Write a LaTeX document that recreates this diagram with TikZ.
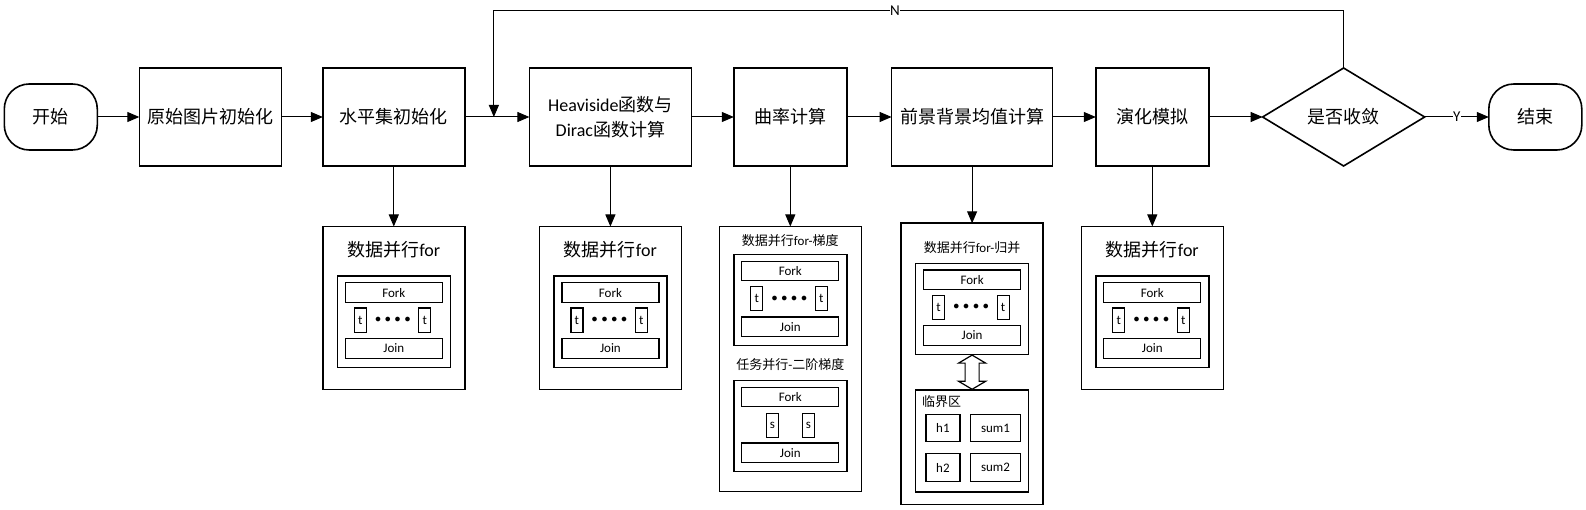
\documentclass[tikz,border=0pt]{standalone}
\usepackage{fontspec}
\setmainfont{Carlito}
\newfontfamily\zh{Noto Sans CJK SC}
\usetikzlibrary{arrows.meta, calc, positioning, shapes.geometric}

\begin{document}
\begin{tikzpicture}[x=1pt, y=-1pt, >={Triangle[length=12pt, width=10pt]},
    box/.style={draw, line width=1.6pt, outer sep=0pt, minimum height=98pt, inner sep=1pt, align=center, font=\fontsize{18}{24.5}\selectfont},
    term/.style={draw, line width=1.6pt, outer sep=0pt, rounded corners=25pt, minimum width=93pt, minimum height=66pt, font=\fontsize{18}{22}\selectfont},
    flow/.style={->, line width=1pt},
    parbox/.style={draw, line width=1.6pt, outer sep=0pt, minimum width=142pt, anchor=north},
    forframe/.style={draw, line width=1.4pt, minimum width=113pt, minimum height=91pt, anchor=north},
    bar/.style={draw, line width=1.2pt, minimum width=97pt, minimum height=19.5pt, inner sep=0pt, font=\fontsize{13}{15}\selectfont},
    cell/.style={draw, line width=1.2pt, minimum width=12pt, minimum height=24pt, inner sep=0pt, font=\fontsize{13}{15}\selectfont},
    ttlbig/.style={inner sep=0pt, font=\fontsize{18}{22}\selectfont},
    ttlsmall/.style={inner sep=0pt, font=\fontsize{13}{16}\selectfont}]
    \useasboundingbox (0,0) rectangle (1586,510);

    % Main flow
    \node[term] (start) at (50.8,117) {\zh 开始};
    \node[box, minimum width=142pt, right=42pt of start] (init) {\zh 原始图片初始化};
    \node[box, minimum width=142pt, right=41.5pt of init] (lvlset) {\zh 水平集初始化};
    \node[box, minimum width=162pt, right=64.6pt of lvlset] (heavi) {Heaviside{\zh 函数与}\\Dirac{\zh 函数计算}};
    \node[box, minimum width=113pt, right=42.4pt of heavi] (curv) {\zh 曲率计算};
    \node[box, minimum width=161pt, right=44.8pt of curv] (mean) {\zh 前景背景均值计算};
    \node[box, minimum width=113pt, right=43.2pt of mean] (evol) {\zh 演化模拟};
    \node[draw, diamond, line width=1.6pt, outer sep=0pt, inner sep=0pt, aspect=1.65, minimum width=162pt, minimum height=98pt, font=\fontsize{18}{22}\selectfont, right=53.8pt of evol] (conv) {\zh 是否收敛};
    \node[term, right=64.2pt of conv] (stop) {\zh 结束};

    % Parallel boxes
    \node[parbox, minimum height=163pt, below=60.5pt of lvlset] (par1) {};
    \node[parbox, minimum height=163pt, below=60.5pt of heavi] (par2) {};
    \node[parbox, minimum height=265pt, below=60.5pt of curv] (par3) {};
    \node[parbox, minimum height=281pt, below=57.3pt of mean] (par4) {};
    \node[parbox, minimum height=163pt, below=60.5pt of evol] (par5) {};

    \node[ttlbig] (ttl1) at ([yshift=-23.3pt]par1.north) {{\zh 数据并行}for};
    \node[ttlbig] (ttl2) at ([yshift=-23.3pt]par2.north) {{\zh 数据并行}for};
    \node[ttlbig] (ttl5) at ([yshift=-23.3pt]par5.north) {{\zh 数据并行}for};
    \node[ttlsmall] (ttl3) at ([yshift=-14.3pt]par3.north) {{\zh 数据并行}for-{\zh 梯度}};
    \node[ttlsmall] (ttl3b) at ([yshift=-138.3pt]par3.north) {{\zh 任务并行}-{\zh 二阶梯度}};
    \node[ttlsmall] (ttl4) at ([yshift=-24.4pt]par4.north) {{\zh 数据并行}for-{\zh 归并}};

    \node[forframe] (f1) at ([yshift=-49pt]par1.north) {};
    \node[forframe] (f2) at ([yshift=-49pt]par2.north) {};
    \node[forframe] (f5) at ([yshift=-49pt]par5.north) {};
    \node[forframe] (f3) at ([yshift=-27.3pt]par3.north) {};
    \node[forframe] (f3b) at ([yshift=-153.3pt]par3.north) {};
    \node[forframe] (f4) at ([yshift=-39.4pt]par4.north) {};

    \foreach \f in {f1,f2,f3,f3b,f4,f5} {
        \node[bar, anchor=north] (\f-fork) at ([yshift=-6.8pt]\f.north) {Fork};
        \node[bar, anchor=south] (\f-join) at ([yshift=9.2pt]\f.south) {Join};
    }
    \foreach \f in {f1,f2,f3,f4,f5} {
        \node[cell] (\f-t1) at ([xshift=-33.5pt, yshift=-44.6pt]\f.north) {t};
        \node[cell] (\f-t2) at ([xshift=31pt, yshift=-44.6pt]\f.north) {t};
        \node[inner sep=0pt, font=\fontsize{13}{15}\selectfont] (\f-dots) at ([xshift=-1pt, yshift=-44.6pt]\f.north) {$\bullet$\hspace{3.8pt}$\bullet$\hspace{3.8pt}$\bullet$\hspace{3.8pt}$\bullet$};
    }
    \node[cell] (s1) at ([xshift=-18pt, yshift=-45.8pt]f3b.north) {s};
    \node[cell] (s2) at ([xshift=18pt, yshift=-45.8pt]f3b.north) {s};

    % Critical section
    \node[draw, line width=1.4pt, minimum width=113pt, minimum height=102pt, anchor=north] (crit) at ([yshift=-166pt]par4.north) {};
    \node[ttlsmall, anchor=west] (critlbl) at ([xshift=7pt, yshift=-12.4pt]crit.north west) {\zh 临界区};
    \node[cell, minimum width=34pt, minimum height=27.4pt] (h1) at ([xshift=28pt, yshift=-38.7pt]crit.north west) {h1};
    \node[cell, minimum width=50.7pt, minimum height=27.4pt] (sum1) at ([xshift=80.6pt, yshift=-38.7pt]crit.north west) {sum1};
    \node[cell, minimum width=34pt, minimum height=27.4pt] (h2) at ([xshift=28pt, yshift=-78.2pt]crit.north west) {h2};
    \node[cell, minimum width=50.7pt, minimum height=27.4pt] (sum2) at ([xshift=80.6pt, yshift=-78.2pt]crit.north west) {sum2};
    % double arrow between loop and critical section
    \draw[line width=1.2pt, fill=white, line join=miter] (f4.south) -- ++(13.5,8) -- ++(-6.5,0) -- ($(crit.north)+(7,-8)$) -- ++(6.5,0) -- (crit.north) -- ++(-13.5,-8) -- ++(6.5,0) -- ($(f4.south)+(-7,8)$) -- ++(-6.5,0) -- cycle;

    % Arrows
    \draw[flow] (start) -- (init);
    \draw[flow] (init) -- (lvlset);
    \draw[flow] (lvlset) -- (heavi);
    \draw[flow] (heavi) -- (curv);
    \draw[flow] (curv) -- (mean);
    \draw[flow] (mean) -- (evol);
    \draw[flow] (evol) -- (conv);
    \draw[flow] (conv) -- node[fill=white, inner sep=0.5pt, font=\fontsize{15}{17}\selectfont] {Y} (stop);
    \coordinate (merge) at ($(lvlset.east)!0.45!(heavi.west)$);
    \draw[flow] (conv.north) |- node[pos=0.764, fill=white, inner sep=0.5pt, font=\fontsize{15}{17}\selectfont] {N} ([yshift=106.7pt]merge) -- (merge);

    \draw[flow] (lvlset) -- (par1);
    \draw[flow] (heavi) -- (par2);
    \draw[flow] (curv) -- (par3);
    \draw[flow] (mean) -- (par4);
    \draw[flow] (evol) -- (par5);
\end{tikzpicture}
\end{document}
